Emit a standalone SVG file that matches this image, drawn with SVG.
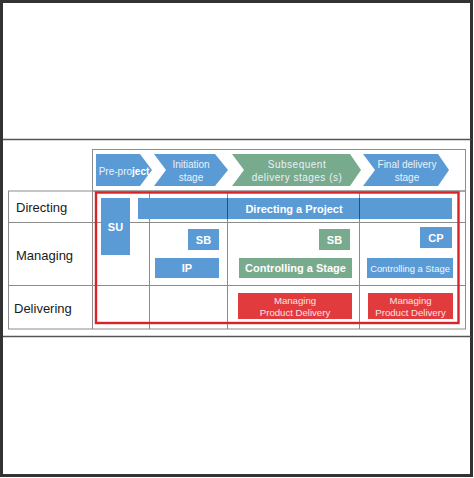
<svg xmlns="http://www.w3.org/2000/svg" width="474" height="478" viewBox="0 0 474 478">
<defs>
<style>
text{font-family:"Liberation Sans",Arial,sans-serif}
.grid{stroke:#8c8c8c;stroke-width:1;fill:none}
.blue{fill:#5a9bd6}
.green{fill:#78aa8e}
.red{fill:#e23b3d}
.lbl{font-size:13px;fill:#1a1a1a}
.hdr{font-size:10px;fill:#eaf1f8;text-anchor:middle}
.bw{font-size:11px;font-weight:bold;fill:#ffffff;text-anchor:middle}
.nw{font-size:9.4px;fill:#f2f6fb;text-anchor:middle}
.rw{font-size:9.6px;fill:#fbe3e3;text-anchor:middle}
</style>
</defs>
<rect x="0" y="0" width="474" height="478" fill="#ffffff"/>
<rect x="1.5" y="1.5" width="470" height="474" fill="none" stroke="#333333" stroke-width="3"/>
<line x1="3" y1="139.5" x2="471" y2="139.5" stroke="#555555" stroke-width="1.5"/>
<line x1="3" y1="336.5" x2="471" y2="336.5" stroke="#555555" stroke-width="1.5"/>

<g id="grid">
<rect class="grid" x="92.5" y="149.5" width="373" height="41.5"/>
<rect class="grid" x="8.5" y="191" width="457" height="138"/>
<line class="grid" x1="8.5" y1="222.5" x2="465.5" y2="222.5"/>
<line class="grid" x1="8.5" y1="285.5" x2="465.5" y2="285.5"/>
<line class="grid" x1="92.5" y1="191" x2="92.5" y2="329"/>
<line class="grid" x1="149.5" y1="191" x2="149.5" y2="329"/>
<line class="grid" x1="227.5" y1="191" x2="227.5" y2="329"/>
<line class="grid" x1="359.5" y1="191" x2="359.5" y2="329"/>
</g>

<g id="row-labels">
<text class="lbl" x="16" y="211.5">Directing</text>
<text class="lbl" x="16" y="260">Managing</text>
<text class="lbl" x="14" y="313">Delivering</text>
</g>

<g id="stage-preproject">
<polygon class="blue" points="96,154 140,154 152,170 140,186 96,186"/>
<text class="hdr" x="124" y="174.5">Pre-pro<tspan font-weight="bold" fill="#ffffff">ject</tspan></text>
</g>
<g id="stage-initiation">
<polygon class="blue" points="154,154 215,154 228,170 215,186 154,186 166,170"/>
<text class="hdr" x="191" y="168">Initiation</text>
<text class="hdr" x="191" y="181">stage</text>
</g>
<g id="stage-subsequent">
<polygon class="green" points="232,154 350,154 361,170 350,186 232,186 244,170"/>
<text class="hdr" x="297" y="168" letter-spacing="0.5">Subsequent</text>
<text class="hdr" x="297" y="181" letter-spacing="0.5">delivery stages (s)</text>
</g>
<g id="stage-final">
<polygon class="blue" points="363,154 438,154 449,170 438,186 363,186 375,170"/>
<text class="hdr" x="407" y="168">Final delivery</text>
<text class="hdr" x="407" y="181">stage</text>
</g>

<g id="su">
<rect class="blue" x="101" y="198" width="29" height="57"/>
<text class="bw" x="115.5" y="231">SU</text>
</g>
<g id="directing-project">
<rect class="blue" x="138" y="198" width="314" height="21"/>
<line x1="227.5" y1="198" x2="227.5" y2="219" stroke="#2f4f6f" stroke-width="1"/>
<line x1="359.5" y1="198" x2="359.5" y2="219" stroke="#2f4f6f" stroke-width="1"/>
<text class="bw" x="294" y="212.5">Directing a Project</text>
</g>
<g id="sb-initiation">
<rect class="blue" x="188" y="229" width="31" height="21"/>
<text class="bw" x="203.5" y="243.5">SB</text>
</g>
<g id="ip">
<rect class="blue" x="155" y="258" width="64" height="20"/>
<text class="bw" x="187" y="272">IP</text>
</g>
<g id="sb-subsequent">
<rect class="green" x="319" y="229" width="31" height="21"/>
<text class="bw" x="334.5" y="243.5">SB</text>
</g>
<g id="controlling-green">
<rect class="green" x="239" y="258" width="113" height="20"/>
<text class="bw" x="295.5" y="272">Controlling a Stage</text>
</g>
<g id="cp">
<rect class="blue" x="420" y="227" width="32" height="21"/>
<text class="bw" x="436" y="241.5">CP</text>
</g>
<g id="controlling-blue">
<rect class="blue" x="367" y="258" width="86" height="20"/>
<text class="nw" x="410" y="271.5">Controlling a Stage</text>
</g>
<g id="mpd-subsequent">
<rect class="red" x="238" y="293" width="114" height="26"/>
<text class="rw" x="295" y="304">Managing</text>
<text class="rw" x="295" y="315.5">Product Delivery</text>
</g>
<g id="mpd-final">
<rect class="red" x="368" y="293" width="85" height="26"/>
<text class="rw" x="410.5" y="304">Managing</text>
<text class="rw" x="410.5" y="315.5">Product Delivery</text>
</g>

<g id="connectors">
<rect x="96" y="192.5" width="362.5" height="130.5" fill="none" stroke="#d8232a" stroke-width="2.4"/>
</g>
</svg>
